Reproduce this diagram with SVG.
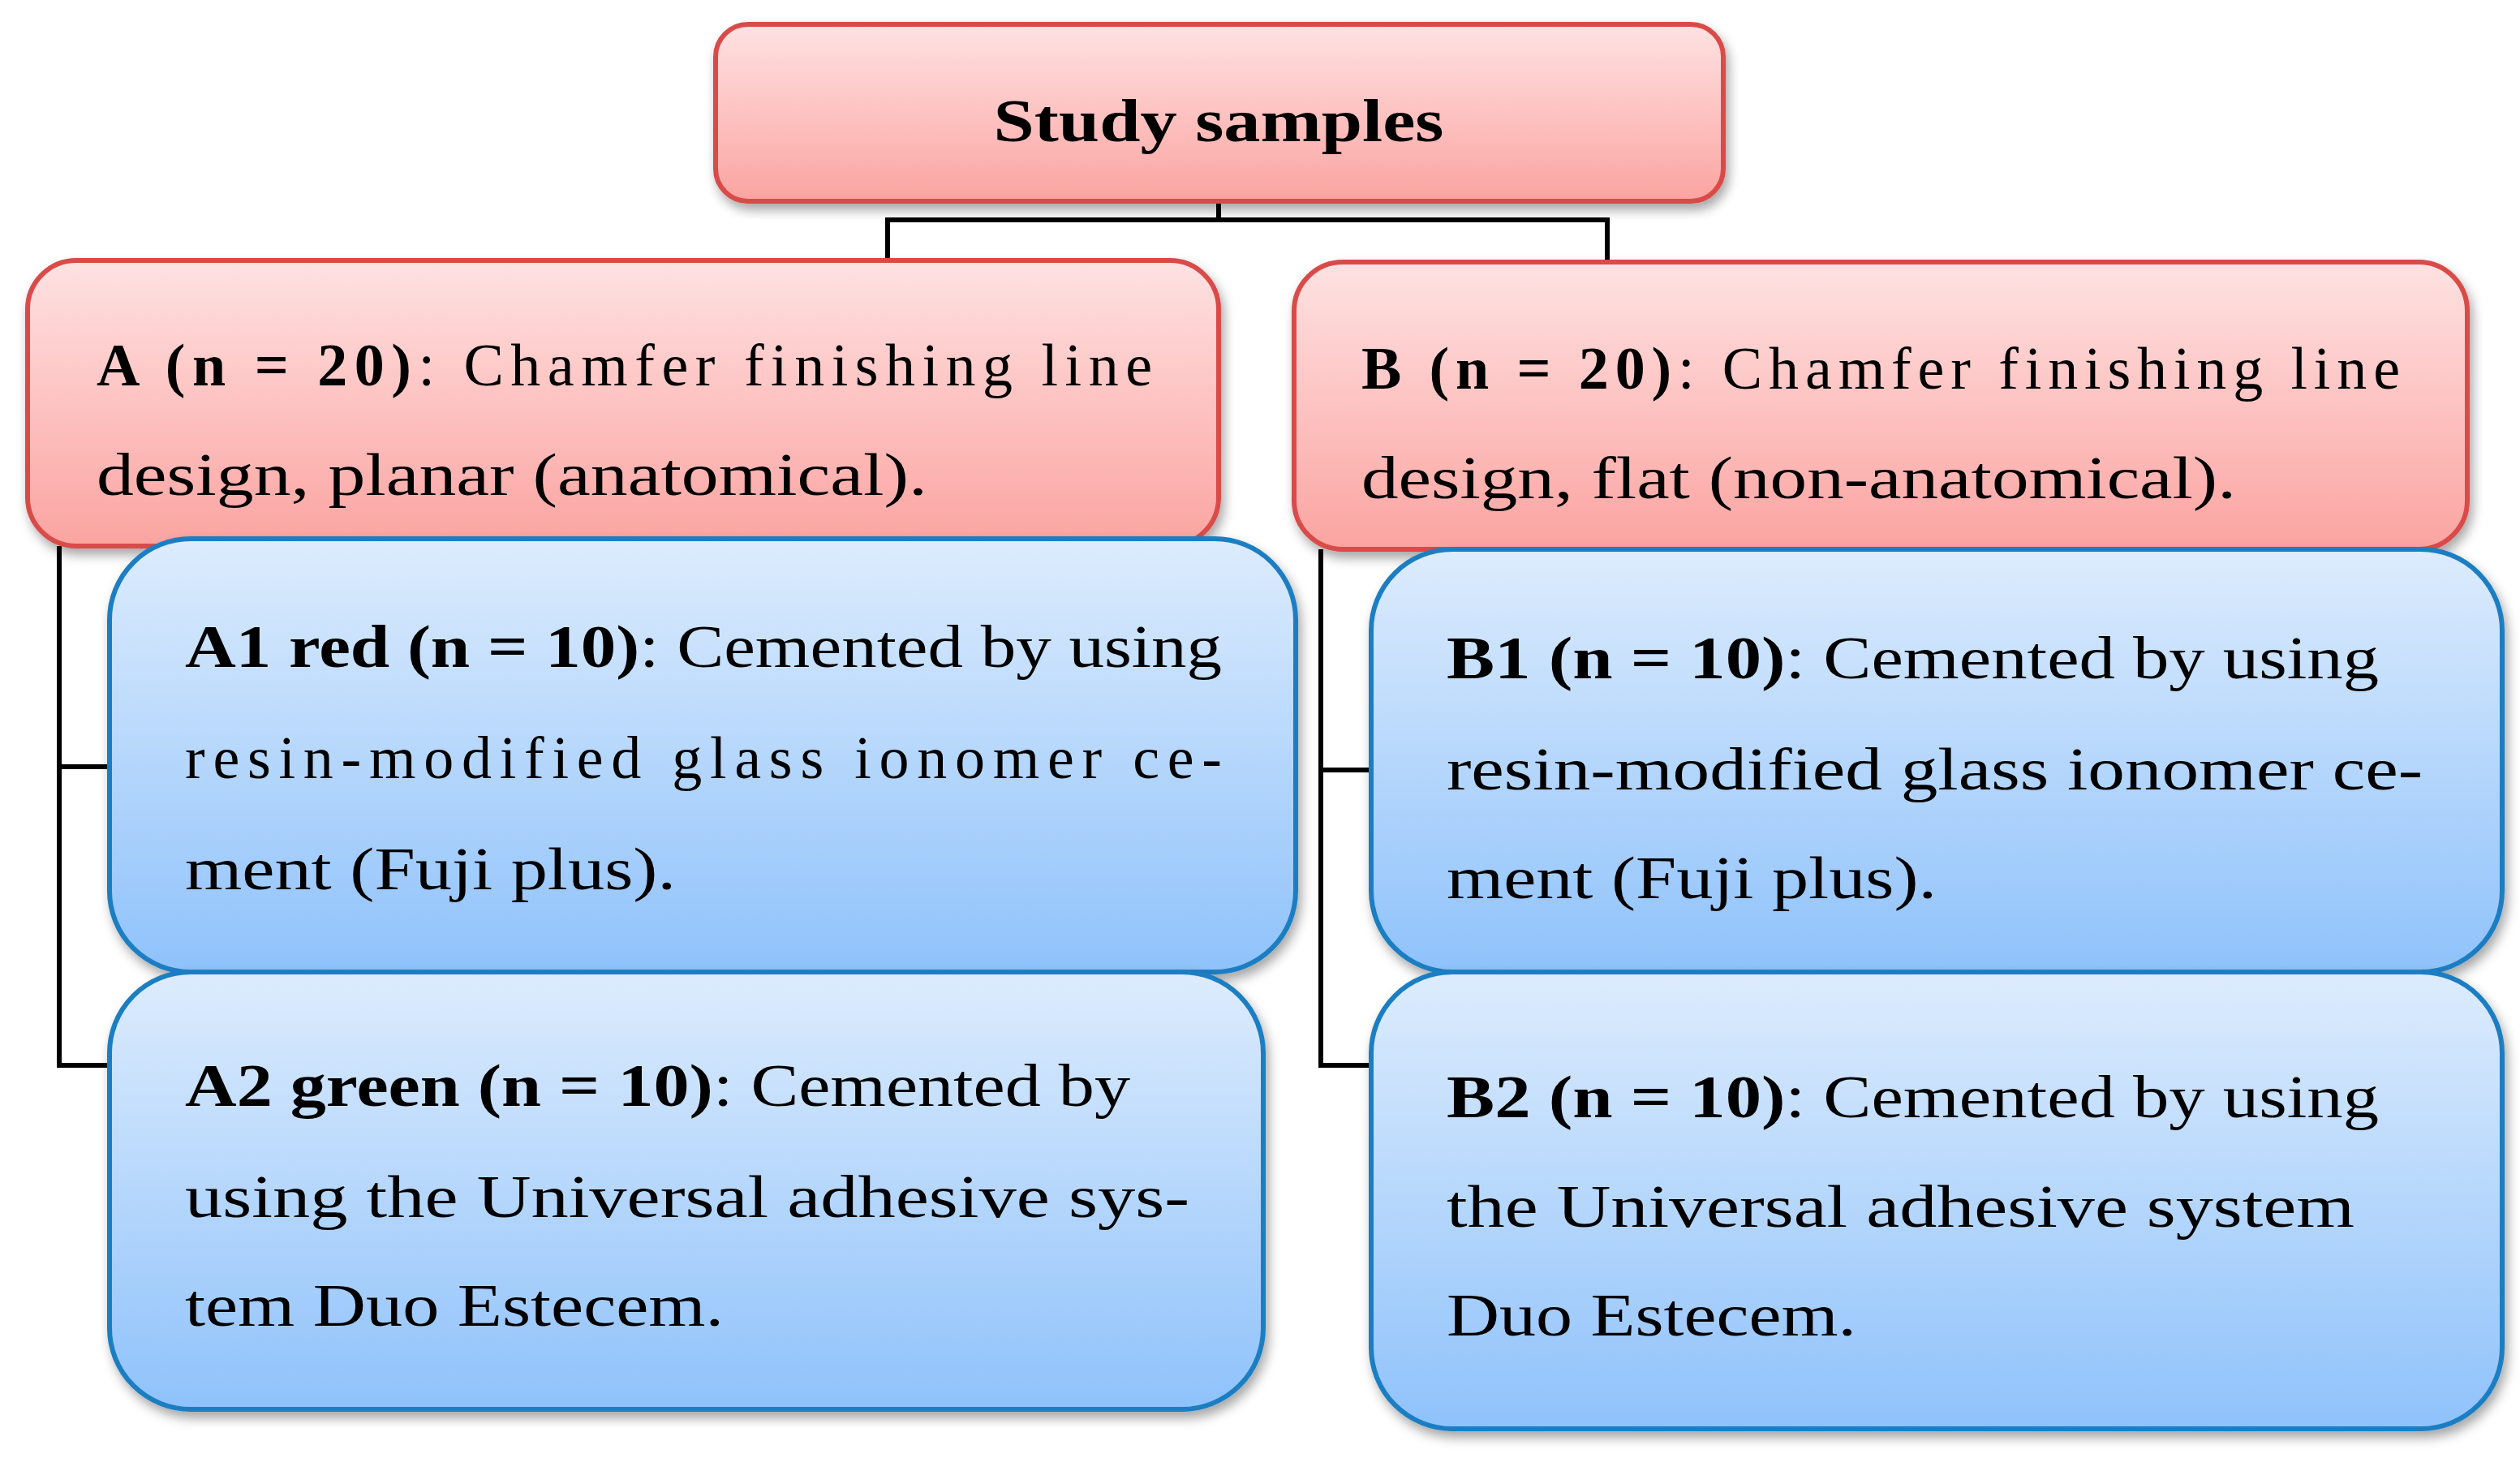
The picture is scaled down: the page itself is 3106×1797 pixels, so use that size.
<svg xmlns="http://www.w3.org/2000/svg" width="3106" height="1797" viewBox="0 0 3106 1797">
<style>
text{font-family:"Liberation Serif",serif;font-size:74px;fill:#000}
.b{font-weight:bold}
.red{fill:url(#gr);stroke:#d94c48;stroke-width:6}
.blue{fill:url(#gb);stroke:#1f7ec2;stroke-width:6}
.c{fill:none;stroke:#000;stroke-width:6}
</style>
<defs>
<linearGradient id="gr" x1="0" y1="0" x2="0" y2="1"><stop offset="0" stop-color="#fee2e2"/><stop offset="1" stop-color="#fba4a1"/></linearGradient>
<linearGradient id="gb" x1="0" y1="0" x2="0" y2="1"><stop offset="0" stop-color="#ddecfd"/><stop offset="1" stop-color="#8fc2fb"/></linearGradient>
<filter id="sh" x="-5%" y="-5%" width="110%" height="115%"><feDropShadow dx="4" dy="8" stdDeviation="7" flood-color="#000" flood-opacity="0.35"/></filter>
</defs>
<g id="connectors">
<path class="c" d="M1502 248V271M1094 271H1981M1094 268V322M1981 268V324"/>
<path class="c" d="M73 673V1313H135M73 945H135"/>
<path class="c" d="M1628 677V1313H1690M1628 949H1690"/>
</g>
<g id="study"><rect class="red" filter="url(#sh)" x="882" y="30" width="1242" height="218" rx="40"/>
<text class="b" x="1502" y="174" text-anchor="middle" textLength="555" lengthAdjust="spacingAndGlyphs">Study samples</text></g>
<g id="A"><rect class="red" filter="url(#sh)" x="34" y="321" width="1468" height="352" rx="60"/>
<text x="119" y="475" textLength="1301" lengthAdjust="spacing"><tspan class="b">A (n = 20)</tspan>: Chamfer finishing line</text>
<text x="119" y="610" textLength="1024" lengthAdjust="spacingAndGlyphs">design, planar (anatomical).</text></g>
<g id="B"><rect class="red" filter="url(#sh)" x="1595" y="323" width="1446" height="354" rx="60"/>
<text x="1678" y="479" textLength="1280" lengthAdjust="spacing"><tspan class="b">B (n = 20)</tspan>: Chamfer finishing line</text>
<text x="1678" y="614" textLength="1078" lengthAdjust="spacingAndGlyphs">design, flat (non-anatomical).</text></g>
<g id="A1"><rect class="blue" filter="url(#sh)" x="135" y="664" width="1462" height="534" rx="100"/>
<text x="228" y="822" textLength="1278" lengthAdjust="spacingAndGlyphs"><tspan class="b">A1 red (n = 10)</tspan>: Cemented by using</text>
<text x="228" y="959" textLength="1278" lengthAdjust="spacing">resin-modified glass ionomer ce-</text>
<text x="228" y="1096" textLength="605" lengthAdjust="spacingAndGlyphs">ment (Fuji plus).</text></g>
<g id="A2"><rect class="blue" filter="url(#sh)" x="135" y="1198" width="1422" height="539" rx="100"/>
<text x="228" y="1363" textLength="1165" lengthAdjust="spacingAndGlyphs"><tspan class="b">A2 green (n = 10)</tspan>: Cemented by</text>
<text x="228" y="1500" textLength="1238" lengthAdjust="spacingAndGlyphs">using the Universal adhesive sys-</text>
<text x="228" y="1634" textLength="664" lengthAdjust="spacingAndGlyphs">tem Duo Estecem.</text></g>
<g id="B1"><rect class="blue" filter="url(#sh)" x="1690" y="677" width="1394" height="521" rx="100"/>
<text x="1783" y="836" textLength="1149" lengthAdjust="spacingAndGlyphs"><tspan class="b">B1 (n = 10)</tspan>: Cemented by using</text>
<text x="1783" y="973" textLength="1203" lengthAdjust="spacingAndGlyphs">resin-modified glass ionomer ce-</text>
<text x="1783" y="1107" textLength="604" lengthAdjust="spacingAndGlyphs">ment (Fuji plus).</text></g>
<g id="B2"><rect class="blue" filter="url(#sh)" x="1690" y="1198" width="1394" height="563" rx="100"/>
<text x="1783" y="1377" textLength="1149" lengthAdjust="spacingAndGlyphs"><tspan class="b">B2 (n = 10)</tspan>: Cemented by using</text>
<text x="1783" y="1512" textLength="1119" lengthAdjust="spacingAndGlyphs">the Universal adhesive system</text>
<text x="1783" y="1646" textLength="505" lengthAdjust="spacingAndGlyphs">Duo Estecem.</text></g>
</svg>
